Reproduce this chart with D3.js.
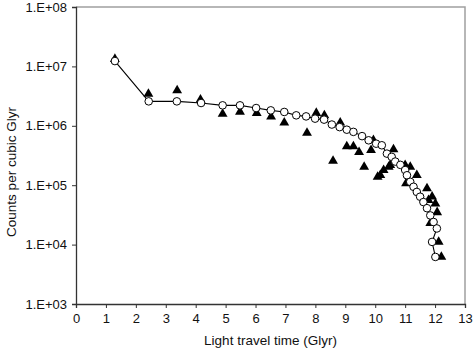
<!DOCTYPE html>
<html>
<head>
<meta charset="utf-8">
<script src="https://cdn.jsdelivr.net/npm/d3@7"></script>
<style>
  body { margin: 0; background: #fff; }
  text { font-family: "Liberation Sans", Arial, sans-serif; }
</style>
</head>
<body>
<svg id="chart" width="474" height="353"></svg>
<script>
// model curve (open circles joined by line)
const modelX = [1.30, 2.43, 3.37, 4.18, 4.90, 5.48, 6.02, 6.51, 6.96, 7.36, 7.69, 7.99, 8.29, 8.55, 8.81, 9.05, 9.27, 9.56, 9.78, 10.03, 10.22, 10.39, 10.55, 10.67, 10.84, 11.00, 11.06, 11.17, 11.28, 11.39, 11.50, 11.61, 11.73, 11.84, 11.95, 12.06, 11.90, 12.01];
const modelY = [1.23e7, 2.58e6, 2.58e6, 2.42e6, 2.21e6, 2.21e6, 1.99e6, 1.82e6, 1.71e6, 1.50e6, 1.44e6, 1.32e6, 1.27e6, 1.05e6, 9.5e5, 8.6e5, 7.9e5, 6.7e5, 5.7e5, 5.0e5, 4.7e5, 3.4e5, 3.0e5, 2.5e5, 2.2e5, 1.8e5, 1.47e5, 1.14e5, 9.4e4, 7.7e4, 6.4e4, 5.2e4, 4.1e4, 3.1e4, 2.4e4, 1.87e4, 1.11e4, 6.2e3];

// observed counts (filled triangles)
const obsX = [1.30, 2.42, 3.38, 4.16, 4.90, 5.48, 6.04, 6.52, 6.96, 7.72, 8.03, 8.30, 8.59, 8.83, 9.05, 9.27, 9.46, 9.63, 9.86, 9.94, 10.08, 10.17, 10.28, 10.45, 10.50, 10.61, 11.00, 11.03, 11.17, 11.39, 11.73, 11.78, 11.90, 12.01, 12.07, 11.84, 12.12, 12.21];
const obsY = [1.33e7, 3.45e6, 3.95e6, 2.75e6, 1.59e6, 1.72e6, 1.64e6, 1.43e6, 1.13e6, 7.6e5, 1.64e6, 1.50e6, 2.56e5, 1.13e6, 4.5e5, 4.5e5, 3.6e5, 2.03e5, 3.9e5, 5.7e5, 1.38e5, 1.47e5, 1.79e5, 2.03e5, 2.17e5, 4.0e5, 2.17e5, 1.07e5, 2.03e5, 1.47e5, 8.8e4, 5.6e4, 6.4e4, 4.9e4, 3.5e4, 2.3e4, 1.11e4, 6.2e3];

const xTicks = d3.range(0, 14);
const yTicks = [1e3, 1e4, 1e5, 1e6, 1e7, 1e8];

const svg = d3.select("#chart");
const plotL = 76, plotR = 465, plotT = 7, plotB = 304;

const x = d3.scaleLinear().domain([0, 13]).range([plotL, plotR]);
const y = d3.scaleLog().domain([1e3, 1e8]).range([plotB, plotT]);

const model = modelX.map((v, i) => ({ x: v, y: modelY[i] }));
const obs = obsX.map((v, i) => ({ x: v, y: obsY[i] }));

// top / right frame (grey)
svg.append("path")
  .attr("d", `M${plotL},${plotT}H${plotR}V${plotB}`)
  .attr("fill", "none")
  .attr("stroke", "#a0a0a0")
  .attr("stroke-width", 1.5);

// axes
const fmt = d => "1.E+0" + Math.round(Math.log10(d));
const yAxis = svg.append("g")
  .attr("transform", `translate(${plotL},0)`)
  .call(d3.axisLeft(y).tickValues(yTicks).tickFormat(fmt).tickSize(4).tickPadding(5));
const xAxis = svg.append("g")
  .attr("transform", `translate(0,${plotB})`)
  .call(d3.axisBottom(x).tickValues(xTicks).tickFormat(d3.format("d")).tickSize(4).tickPadding(6));

[xAxis, yAxis].forEach(g => {
  g.select(".domain").attr("stroke", "#333").attr("stroke-width", 1.3);
  g.selectAll(".tick line").attr("stroke", "#333");
  g.selectAll("text").attr("font-size", 13).attr("fill", "#111")
    .attr("font-family", "'Liberation Sans', Arial, sans-serif");
});

// triangles (behind)
svg.append("g").selectAll("path")
  .data(obs)
  .join("path")
  .attr("d", d3.symbol().type(d3.symbolTriangle).size(42))
  .attr("transform", d => `translate(${x(d.x)},${y(d.y)})`)
  .attr("fill", "#000");

// model line + circles
svg.append("path")
  .datum(model)
  .attr("fill", "none")
  .attr("stroke", "#000")
  .attr("stroke-width", 1.1)
  .attr("d", d3.line().x(d => x(d.x)).y(d => y(d.y)));

svg.append("g").selectAll("circle")
  .data(model)
  .join("circle")
  .attr("cx", d => x(d.x))
  .attr("cy", d => y(d.y))
  .attr("r", 3.8)
  .attr("fill", "#fff")
  .attr("stroke", "#000")
  .attr("stroke-width", 1);

// titles
svg.append("text")
  .attr("x", (plotL + plotR) / 2)
  .attr("y", 345)
  .attr("text-anchor", "middle")
  .attr("font-size", 13.5)
  .attr("fill", "#111")
  .text("Light travel time (Glyr)");

svg.append("text")
  .attr("transform", "translate(16,172) rotate(-90)")
  .attr("text-anchor", "middle")
  .attr("font-size", 13.5)
  .attr("fill", "#111")
  .text("Counts per cubic Glyr");
</script>
</body>
</html>
